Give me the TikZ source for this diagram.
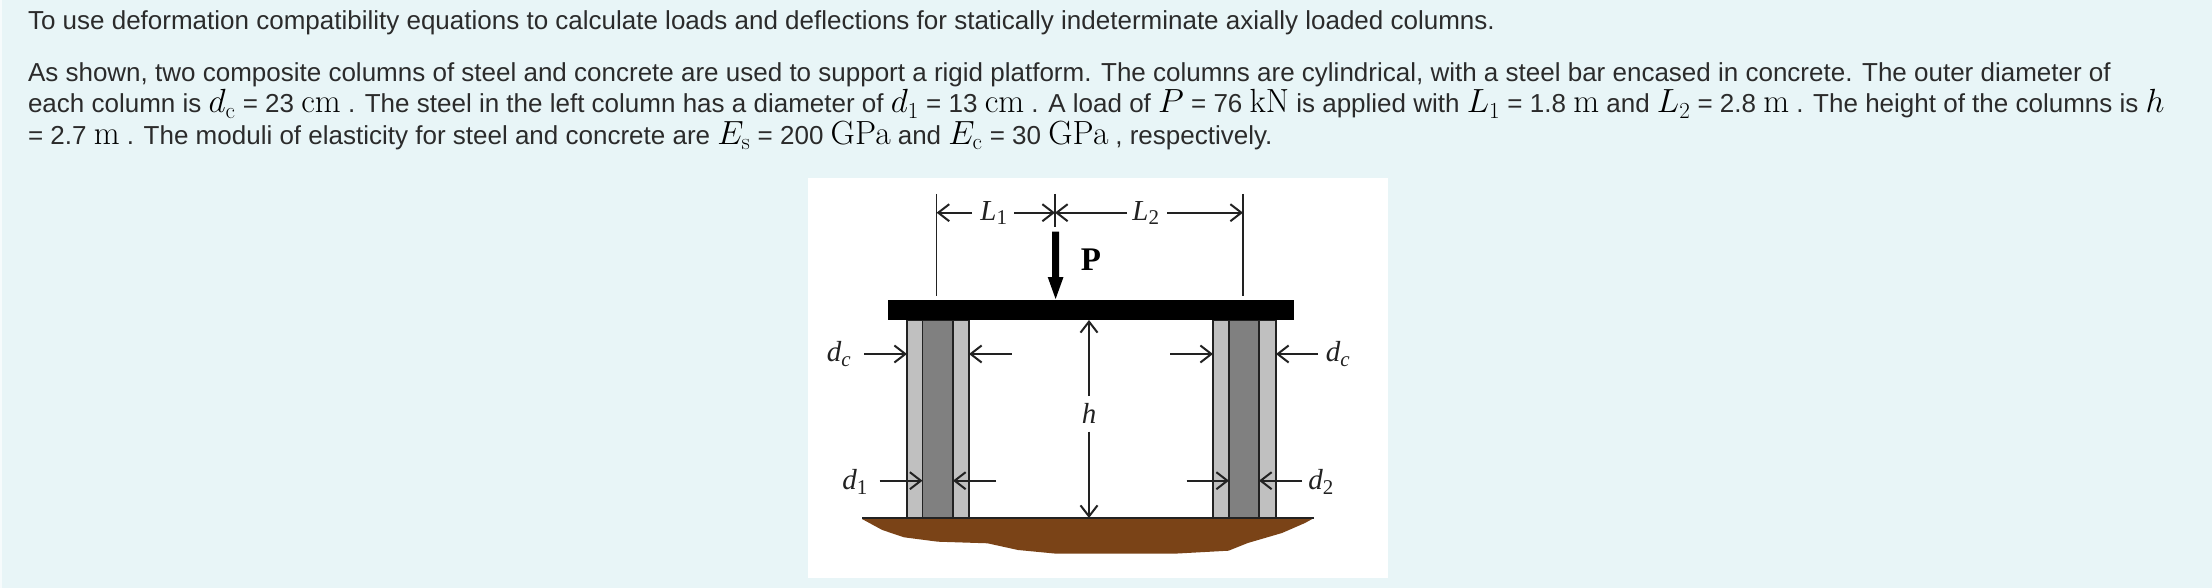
\documentclass[tikz,border=0pt]{standalone}
\usepackage{fix-cm}
\usepackage[no-math]{fontspec}
\setmainfont{Liberation Sans}
\newfontfamily\figfont{Liberation Serif}
\usetikzlibrary{arrows.meta}
\DeclareMathSizes{26}{33.5}{23}{17}
\definecolor{pagebg}{HTML}{E8F5F7}
\definecolor{bodytext}{HTML}{2B2B2B}
\definecolor{steelgray}{HTML}{808080}
\definecolor{concgray}{HTML}{C0C0C0}
\definecolor{soil}{HTML}{7A4317}
\definecolor{figline}{HTML}{222222}
\newcommand{\labsub}[1]{\textsubscript{\figfont\fontsize{21}{21}\selectfont #1}}
\newcommand{\mth}[1]{{\color{black}$#1$}}
\tikzset{
  bodyline/.style={anchor=base west,inner sep=0pt,outer sep=0pt,text=bodytext,font=\fontsize{26}{31}\selectfont},
  figlabel/.style={inner sep=0pt,text=figline,font=\figfont\itshape\fontsize{29}{30}\selectfont},
  dim/.style={draw=figline,line width=1.8pt,-{Straight Barb[length=11pt,width=17pt,line width=2pt]}},
  ext/.style={draw=figline,line width=1.6pt},
  concrete/.style={fill=concgray,draw=figline,line width=1.8pt},
  steel/.style={fill=steelgray,draw=figline,line width=1.8pt},
}
\begin{document}
\begin{tikzpicture}[x=1pt,y=-1pt]
\useasboundingbox (0,0) rectangle (2212,588);
\fill[pagebg] (0,0) rectangle (2212,588);
\fill[white!60!pagebg] (0,0) rectangle (2,588);

% text
\node[bodyline] (t1) at (28,29.5) {To use deformation compatibility equations to calculate loads and deflections for statically indeterminate axially loaded columns.};
\node[bodyline] (t2) at (28,82) {As shown, two composite columns of steel and concrete are used to support a rigid platform. The columns are cylindrical, with a steel bar encased in concrete. The outer diameter of};
\node[bodyline] (t3) at (28,113) {each column is \mth{d_{\mathrm c}} = 23 \mth{\mathrm{cm}} . The steel in the left column has a diameter of \mth{d_1} = 13 \mth{\mathrm{cm}} . A load of \mth{P} = 76 \mth{\mathrm{kN}} is applied with \mth{L_1} = 1.8 \mth{\mathrm{m}} and \mth{L_2} = 2.8 \mth{\mathrm{m}} . The height of the columns is \mth{h}};
\node[bodyline] (t4) at (28,144.5) {= 2.7 \mth{\mathrm{m}} . The moduli of elasticity for steel and concrete are \mth{E_{\mathrm s}} = 200 \mth{\mathrm{GPa}} and \mth{E_{\mathrm c}} = 30 \mth{\mathrm{GPa}} , respectively.};

% figure panel
\fill[white] (808,178) rectangle (1388,578);

% soil
\fill[soil] (862,519) -- (882.3,530) -- (904,537.3) -- (937.8,541.7) -- (987.5,543.3) -- (1018,550) -- (1056.4,553.7) -- (1174,553.7) -- (1228.6,550.7) -- (1247.8,543) -- (1282,533) -- (1305,523) -- (1314,518) -- cycle;

% columns
\draw[concrete] (907,320) rectangle (969,518);
\draw[steel] (922.5,320) rectangle (953,518);
\draw[concrete] (1213,320) rectangle (1276,518);
\draw[steel] (1229,320) rectangle (1259,518);
\draw[figline,line width=2pt] (862,518) -- (1314,518);

% platform
\fill[black] (888,300) rectangle (1294,320);

% named points
\coordinate (extLt) at (936.6,194);
\coordinate (extLb) at (936.6,296);
\coordinate (extMt) at (1055,194);
\coordinate (extMb) at (1055,227);
\coordinate (extRt) at (1243,194);
\coordinate (extRb) at (1243,296);
\coordinate (dimL) at (936.6,212.7);
\coordinate (dimM) at (1055,212.7);
\coordinate (dimR) at (1243,212.7);
\coordinate (tailLa) at (972,212.7);
\coordinate (tailLb) at (1014,212.7);
\coordinate (tailLc) at (1127,212.7);
\coordinate (tailLd) at (1167,212.7);
\coordinate (hTop) at (1089,320);
\coordinate (hBot) at (1089,518);
\coordinate (hTailA) at (1089,396);
\coordinate (hTailB) at (1089,431.7);
\coordinate (cA) at (907,354);
\coordinate (cB) at (969,354);
\coordinate (cC) at (1213,354);
\coordinate (cD) at (1276,354);
\coordinate (cAtail) at (864,354);
\coordinate (cBtail) at (1011.6,354);
\coordinate (cCtail) at (1170,354);
\coordinate (cDtail) at (1318,354);
\coordinate (sA) at (922.5,480.7);
\coordinate (sB) at (953,480.7);
\coordinate (sC) at (1229,480.7);
\coordinate (sD) at (1259,480.7);
\coordinate (sAtail) at (879.6,480.7);
\coordinate (sBtail) at (996,480.7);
\coordinate (sCtail) at (1186.5,480.7);
\coordinate (sDtail) at (1302,480.7);

% labels
\node[figlabel] (lL1) at (994,213) {L\labsub{\upshape 1}};
\node[figlabel] (lL2) at (1146,213) {L\labsub{\upshape 2}};
\node[inner sep=0pt,text=black,font=\figfont\bfseries\fontsize{33}{33}\selectfont] (lP) at (1091,260) {P};
\node[figlabel] (lh) at (1089,413) {h};
\node[figlabel] (ldcL) at (839,354) {d\labsub{\itshape c}};
\node[figlabel] (ldcR) at (1338,354) {d\labsub{\itshape c}};
\node[figlabel] (ld1) at (855,482) {d\labsub{\upshape 1}};
\node[figlabel] (ld2) at (1321,482) {d\labsub{\upshape 2}};

% extension lines
\draw[ext] (extLt) -- (extLb);
\draw[ext] (extMt) -- (extMb);
\draw[ext] (extRt) -- (extRb);

% dimension arrows
\draw[dim] (tailLa) -- (dimL);
\draw[dim] (tailLb) -- (dimM);
\draw[dim] (tailLc) -- (dimM);
\draw[dim] (tailLd) -- (dimR);

\draw[dim] (hTailA) -- (hTop);
\draw[dim] (hTailB) -- (hBot);

\draw[dim] (cAtail) -- (cA);
\draw[dim] (cBtail) -- (cB);
\draw[dim] (cCtail) -- (cC);
\draw[dim] (cDtail) -- (cD);

\draw[dim] (sAtail) -- (sA);
\draw[dim] (sBtail) -- (sB);
\draw[dim] (sCtail) -- (sC);
\draw[dim] (sDtail) -- (sD);

% load arrow
\fill[black] (1052,231.7) -- (1059,231.7) -- (1059,277) -- (1063.5,277) -- (1055.6,299) -- (1047.7,277) -- (1052,277) -- cycle;
\end{tikzpicture}
\end{document}
